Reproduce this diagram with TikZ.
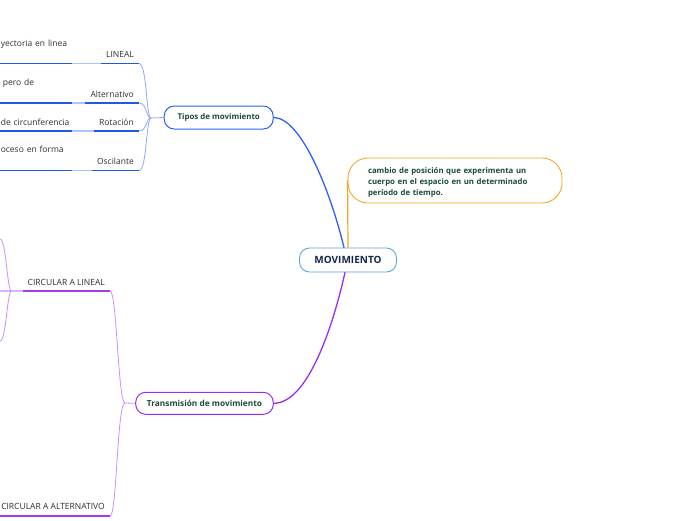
\documentclass[tikz,border=0pt]{standalone}
\usepackage{fontspec}
\setmainfont{Open Sans}
\definecolor{bmain}{HTML}{2F5FF5}
\definecolor{blight}{HTML}{8FAAF8}
\definecolor{bdark}{HTML}{2456E6}
\definecolor{bpale}{HTML}{AFC3F6}
\definecolor{pmain}{HTML}{9B2CF5}
\definecolor{plight}{HTML}{CE8EFA}
\definecolor{pdark}{HTML}{A33EF0}
\definecolor{ppale}{HTML}{DDB2FB}
\definecolor{orng}{HTML}{F5A623}
\definecolor{boxblue}{HTML}{5BA4DA}
\definecolor{tgreen}{HTML}{1D4A3A}
\definecolor{navy}{HTML}{15284A}
\definecolor{lgray}{HTML}{2E2E2E}
\begin{document}
\begin{tikzpicture}[x=1pt, y=-1pt, font=\fontsize{8.5}{10}\selectfont, line join=round, line cap=round,
  topic/.style={draw, line width=1pt, rounded corners=10pt, fill=white, inner sep=0pt, text=tgreen, font=\fontsize{7.9}{9}\selectfont\bfseries},
  leaf/.style={anchor=south east, inner xsep=5pt, inner ysep=0pt, text depth=5.5pt, text=lgray},
  sub/.style={anchor=south east, inner xsep=1pt, inner ysep=0pt, text width=70pt, align=left, text=lgray},
  uline/.style={line width=1.8pt, line cap=butt},
  twig/.style={line width=0.8pt}]
\def\jb{151} \def\jp{125}
\useasboundingbox (0,0) rectangle (696,520);
\node[draw=boxblue, line width=0.9pt, rounded corners=10pt, fill=white, minimum width=97pt, minimum height=24pt, text=navy, font=\fontsize{10}{11}\selectfont\bfseries] (mov) at (348,260) {MOVIMIENTO};
\node[draw=orng, line width=0.9pt, rounded corners=20pt, minimum width=214pt, minimum height=45pt, inner xsep=20pt, text width=174pt, align=left, text=tgreen, font=\fontsize{7.8}{11}\selectfont\bfseries] (desc) at (455,180.5) {\rule{0pt}{9pt}cambio de posición que experimenta un\\ cuerpo en el espacio en un determinado\\ período de tiempo.};
\node[topic, draw=bmain, minimum width=109pt, minimum height=23pt] (tipos) at (218.7,117.5) {Tipos de movimiento};
\node[topic, draw=pmain, minimum width=137.6pt, minimum height=22pt, font=\fontsize{8.3}{9}\selectfont\bfseries] (trans) at (204.5,403.3) {Transmisión de movimiento};
\node[leaf] (lineal) at (139,63.5) {LINEAL};
\node[leaf] (alter) at (139,103) {Alternativo};
\node[leaf] (rota) at (139,131) {Rotación};
\node[leaf] (osci) at (139,170.5) {Oscilante};
\node[sub, text depth=17pt] (tray) at (72,63.5) {yectoria en linea};
\node[sub, text depth=17pt] (perode) at (72,103) {\hspace{2pt}pero de};
\node[sub, text depth=5.5pt] (circunf) at (72,131) {de circunferencia};
\node[sub, text depth=17.5pt] (proceso) at (72,170.5) {oceso en forma};
\node[leaf, text depth=5.7pt] (clin) at (110,291) {CIRCULAR A LINEAL};
\node[leaf, text depth=6.5pt] (calt) at (110,516) {CIRCULAR A ALTERNATIVO};
\coordinate (tj) at (\jb,118);
\coordinate (pj) at (\jp,403);
\coordinate (cj) at (11,291);
\coordinate (cmid) at (0,291);
\coordinate (cup) at (0,239);
\coordinate (cdn) at (0,341);
\draw[orng, line width=1.2pt] (mov.north) -- (desc.west);
\draw[bmain, line width=1.3pt] (tipos.east) .. controls +(27,0) and +(-14,-58) .. ([xshift=-4pt]mov.north);
\draw[pmain, line width=1.3pt] ([xshift=-3pt]mov.south) .. controls +(-13,58) and +(33,0) .. (trans.east);
\draw[twig, blight] (tipos.west) -- (tj);
\draw[twig, blight] (tj) .. controls +(-5,0) and +(8,0) .. (lineal.south east);
\draw[twig, blight] (tj) .. controls +(-5,0) and +(8,0) .. (alter.south east);
\draw[twig, blight] (tj) .. controls +(-5,0) and +(8,0) .. (rota.south east);
\draw[twig, blight] (tj) .. controls +(-5,0) and +(8,0) .. (osci.south east);
\draw[uline, bdark] (lineal.south west) -- (lineal.south east);
\draw[uline, bdark] (alter.south west) -- (alter.south east);
\draw[uline, bdark] (rota.south west) -- (rota.south east);
\draw[uline, bdark] (osci.south west) -- (osci.south east);
\draw[uline, bdark] (tray.south west) -- (tray.south east);
\draw[uline, bdark] (perode.south west) -- (perode.south east);
\draw[uline, bdark] (circunf.south west) -- (circunf.south east);
\draw[uline, bdark] (proceso.south west) -- (proceso.south east);
\draw[uline, bpale] (tray.south east) -- (lineal.south west);
\draw[uline, bpale] (perode.south east) -- (alter.south west);
\draw[uline, bpale] (circunf.south east) -- (rota.south west);
\draw[uline, bpale] (proceso.south east) -- (osci.south west);
\draw[twig, plight] (trans.west) -- (pj);
\draw[twig, plight] (pj) .. controls +(-7,0) and +(7,0) .. (clin.south east);
\draw[twig, plight] (pj) .. controls +(-8,0) and +(7,0) .. (calt.south east);
\draw[uline, pdark] (clin.south west) -- (clin.south east);
\draw[uline, pdark] (calt.south west) -- (calt.south east);
\draw[uline, ppale] (clin.south west) -- (cmid);
\draw[twig, plight] (cj) .. controls +(-4,-4) and +(6,0) .. (cup);
\draw[twig, plight] (cj) .. controls +(-4,4) and +(6,0) .. (cdn);
\end{tikzpicture}
\end{document}
